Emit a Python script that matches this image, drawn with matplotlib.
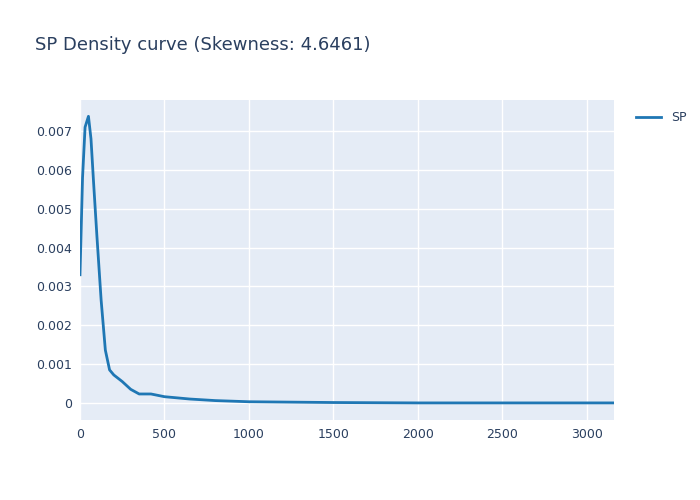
import matplotlib.pyplot as plt

# density curve
sp_x = [0, 15, 30, 50, 65, 80, 100, 125, 150, 175, 200, 250, 300, 350, 420, 500, 650, 800, 1000, 1500, 2000, 2500, 3160]
sp_y = [0.0033, 0.0058, 0.0071, 0.00738, 0.0068, 0.0057, 0.0043, 0.00265, 0.00136, 0.00085, 0.00072, 0.00055,
        0.00035, 0.00023, 0.00023, 0.00016, 0.0001, 0.00006, 0.00003, 0.00001, 0.0, 0.0, 0.0]
x_ticks = [0, 500, 1000, 1500, 2000, 2500, 3000]
y_ticks = [0, 0.001, 0.002, 0.003, 0.004, 0.005, 0.006, 0.007]
y_labels = ["0", "0.001", "0.002", "0.003", "0.004", "0.005", "0.006", "0.007"]

fig = plt.figure(figsize=(7, 5), dpi=100)
ax = fig.add_axes([80 / 700, 80 / 500, 534 / 700, 320 / 500])
ax.set_facecolor("#E5ECF6")
ax.plot(sp_x, sp_y, color="#1f77b4", linewidth=2, label="SP")
ax.set_xlim(0, 3160)
ax.set_ylim(-0.00044, 0.0078)
ax.set_xticks(x_ticks)
ax.set_yticks(y_ticks)
ax.set_yticklabels(y_labels)
ax.grid(True, color="white", linewidth=1)
ax.set_axisbelow(True)
for s in ax.spines.values():
    s.set_visible(False)
ax.tick_params(length=0, labelsize=9, colors="#2a3f5f", pad=6)
fig.text(35 / 700, 1 - 45 / 500, "SP Density curve (Skewness: 4.6461)", fontsize=13, color="#2a3f5f", va="center")
ax.legend(loc="upper left", bbox_to_anchor=(1.02, 1.0), frameon=False, fontsize=9, labelcolor="#2a3f5f",
          handlelength=2)
fig.savefig("out.png")
